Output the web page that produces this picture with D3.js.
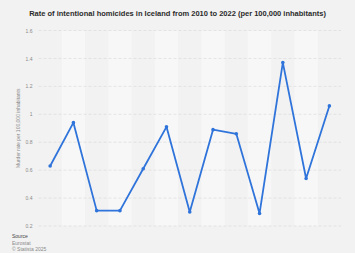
<!DOCTYPE html>
<html>
<head>
<meta charset="utf-8">
<script src="https://cdn.jsdelivr.net/npm/d3@7"></script>
<style>
  html, body { margin: 0; padding: 0; background: #f2f2f2; }
  svg { display: block; font-family: Arial, "Liberation Sans", sans-serif; }
</style>
</head>
<body>
<div id="chart"></div>
<script>
var years = ['2010', '2011', '2012', '2013', '2014', '2015', '2016', '2017', '2018', '2019', '2020', '2021', '2022'];
var rates = [0.63, 0.94, 0.31, 0.31, 0.61, 0.91, 0.30, 0.89, 0.86, 0.29, 1.37, 0.54, 1.06];
var y_ticks = [0.2, 0.4, 0.6, 0.8, 1, 1.2, 1.4, 1.6];

var title = 'Rate of intentional homicides in Iceland from 2010 to 2022 (per 100,000 inhabitants)';
var y_label = 'Murder rate per 100,000 inhabitants';
var source_lines = ['Source', 'Eurostat', '\u00a9 Statista 2025'];

var width = 355, height = 253;
var margin = {top: 30.5, right: 14, bottom: 27, left: 38.5};

let svg = d3.select('#chart').append('svg')
    .attr('width', width)
    .attr('height', height);

svg.append('rect')
    .attr('width', width)
    .attr('height', height)
    .attr('fill', '#f2f2f2');

let x = d3.scaleBand()
    .domain(years)
    .range([margin.left, width - margin.right])
    .padding(0);

let y = d3.scaleLinear()
    .domain([0.2, 1.6])
    .range([height - margin.bottom, margin.top]);

// alternating column bands
svg.selectAll('.band')
    .data(years.filter(function(d, i) { return i % 2 === 1; }))
    .enter().append('rect')
    .attr('class', 'band')
    .attr('x', function(d) { return x(d); })
    .attr('y', y(1.6))
    .attr('width', x.bandwidth())
    .attr('height', y(0.2) - y(1.6))
    .attr('fill', '#f7f7f7');

// gridlines
svg.selectAll('.grid')
    .data(y_ticks)
    .enter().append('line')
    .attr('class', 'grid')
    .attr('x1', margin.left)
    .attr('x2', width - margin.right)
    .attr('y1', function(d) { return y(d); })
    .attr('y2', function(d) { return y(d); })
    .attr('stroke', '#d6d6d6')
    .attr('stroke-width', 0.6)
    .attr('stroke-dasharray', '3,2');

// y axis labels
let yAxis = d3.axisLeft(y)
    .tickValues(y_ticks)
    .tickSize(0)
    .tickPadding(6)
    .tickFormat(function(d) { return String(d); });

let gy = svg.append('g')
    .attr('transform', 'translate(' + margin.left + ',0)')
    .call(yAxis);
gy.select('.domain').remove();
gy.selectAll('text')
    .attr('fill', '#8a8a8a')
    .style('font-size', '5px');

svg.append('text')
    .attr('transform', 'translate(20,' + ((y(0.2) + y(1.6)) / 2) + ') rotate(-90)')
    .attr('text-anchor', 'middle')
    .attr('fill', '#8a8a8a')
    .style('font-size', '5px')
    .text(y_label);

// line
let line = d3.line()
    .x(function(d, i) { return x(years[i]) + x.bandwidth() / 2; })
    .y(function(d) { return y(d); });

svg.append('path')
    .datum(rates)
    .attr('d', line)
    .attr('fill', 'none')
    .attr('stroke', '#2f74db')
    .attr('stroke-width', 1.8)
    .attr('stroke-linejoin', 'round');

svg.selectAll('.dot')
    .data(rates)
    .enter().append('circle')
    .attr('class', 'dot')
    .attr('cx', function(d, i) { return x(years[i]) + x.bandwidth() / 2; })
    .attr('cy', function(d) { return y(d); })
    .attr('r', 1.8)
    .attr('fill', '#2f74db');

// title
svg.append('text')
    .attr('x', width / 2)
    .attr('y', 15.8)
    .attr('text-anchor', 'middle')
    .attr('fill', '#2b2b2b')
    .style('font-size', '7.5px')
    .style('font-weight', 'bold')
    .text(title);

// source
svg.selectAll('.source')
    .data(source_lines)
    .enter().append('text')
    .attr('class', 'source')
    .attr('x', 12)
    .attr('y', function(d, i) { return 238 + i * 6.5; })
    .attr('fill', function(d, i) { return i === 0 ? '#444' : '#8a8a8a'; })
    .style('font-size', '5px')
    .text(function(d) { return d; });
</script>
</body>
</html>
